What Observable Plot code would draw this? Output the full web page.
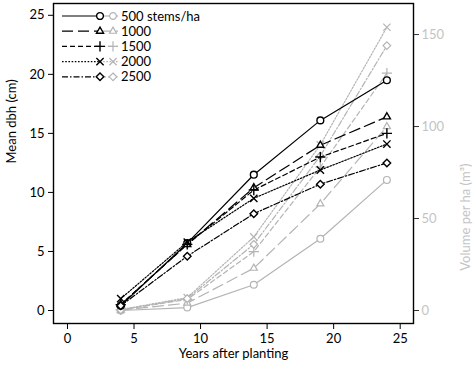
<!DOCTYPE html>
<html>
<head>
<meta charset="utf-8">
<script src="https://cdn.jsdelivr.net/npm/d3@7"></script>
<script src="https://cdn.jsdelivr.net/npm/@observablehq/plot@0.6"></script>
<style>
  body { margin: 0; background: white; }
  #chart { position: relative; width: 474px; height: 369px; }
</style>
</head>
<body>
<div id="chart"></div>
<script>
// ---- data ----
const years = [4, 9, 14, 19, 24];
const densities = ["500 stems/ha", "1000", "1500", "2000", "2500"];
const dbh500  = [0.4, 5.7, 11.5, 16.1, 19.5];
const dbh1000 = [0.5, 5.6, 10.4, 14.0, 16.4];
const dbh1500 = [0.5, 5.6, 10.2, 13.0, 15.0];
const dbh2000 = [1.0, 5.8, 9.5, 11.9, 14.1];
const dbh2500 = [0.4, 4.6, 8.2, 10.7, 12.5];
const vol500  = [0.0, 1.6, 14, 39, 71];
const vol1000 = [0.2, 4, 23, 58, 100];
const vol1500 = [0.3, 6, 32, 78, 129];
const vol2000 = [0.5, 7, 40, 90, 154];
const vol2500 = [0.3, 6.5, 36, 84, 144];
const xTicks = [0, 5, 10, 15, 20, 25];
const dbhTicks = [0, 5, 10, 15, 20, 25];
const volTicks = [0, 50, 100, 150];

// ---- build table ----
const dbhSeries = [dbh500, dbh1000, dbh1500, dbh2000, dbh2500];
const volSeries = [vol500, vol1000, vol1500, vol2000, vol2500];
const k = 0.1558; // cm of left axis per m3 of right axis
const rows = [];
densities.forEach((dens, i) => {
  years.forEach((yr, j) => {
    rows.push({density: dens, year: yr, dbh: dbhSeries[i][j], vol: volSeries[i][j] * k});
  });
});

const dashes = [null, "11,5", "5,3", "1.6,1.6", "6,2,1.5,2"];
const symbols = ["circle", "triangle2", "plus", "times", "diamond2"];
const fills = ["white", "white", "none", "none", "white"];
const gray = "#b4b4b4";
const grayText = "#c4c4c4";

const marks = [Plot.frame({stroke: "black", strokeWidth: 1.4})];
densities.forEach((dens, i) => {
  marks.push(Plot.line(rows.filter(d => d.density === dens), {x: "year", y: "vol", stroke: gray, strokeWidth: 1.2, strokeDasharray: dashes[i]}));
});
densities.forEach((dens, i) => {
  marks.push(Plot.dot(rows.filter(d => d.density === dens), {x: "year", y: "vol", symbol: symbols[i], r: 3.4, stroke: gray, strokeWidth: 1.2, fill: fills[i]}));
});
densities.forEach((dens, i) => {
  marks.push(Plot.line(rows.filter(d => d.density === dens), {x: "year", y: "dbh", stroke: "black", strokeWidth: 1.2, strokeDasharray: dashes[i]}));
});
densities.forEach((dens, i) => {
  marks.push(Plot.dot(rows.filter(d => d.density === dens), {x: "year", y: "dbh", symbol: symbols[i], r: 3.4, stroke: "black", strokeWidth: 1.4, fill: fills[i]}));
});
marks.push(
  Plot.axisX(xTicks, {tickSize: 6, tickPadding: 4, label: null, tickFormat: d => d}),
  Plot.axisY(dbhTicks, {anchor: "left", tickSize: 5, tickPadding: 4, label: null, tickFormat: d => d}),
  Plot.axisY(volTicks.map(v => v * k), {anchor: "right", tickSize: 5, tickPadding: 3, label: null, color: grayText, stroke: "#333", tickFormat: (d, i) => volTicks[i]}),
  Plot.text(["Years after planting"], {frameAnchor: "bottom", dy: 34, fontSize: 13, fill: "black"}),
  Plot.text(["Mean dbh (cm)"], {frameAnchor: "left", dx: -42, rotate: -90, fontSize: 13, fill: "black"}),
  Plot.text(["Volume per ha (m³)"], {frameAnchor: "right", dx: 52, rotate: -90, fontSize: 13, fill: grayText})
);

const chart = Plot.plot({
  width: 474, height: 369,
  marginLeft: 53, marginRight: 61, marginTop: 3, marginBottom: 46,
  style: {fontFamily: "Lato, 'Open Sans', sans-serif", fontSize: "13px", color: "black", background: "white"},
  x: {domain: [-1.05, 26]},
  y: {domain: [-1.1, 26]},
  marks
});
document.getElementById("chart").appendChild(chart);

// ---- legend ----
const svg = d3.select(chart);
const lg = svg.append("g").attr("class", "legend").attr("text-anchor", "start");
const symMap = {circle: d3.symbolCircle, triangle2: d3.symbolTriangle2, plus: d3.symbolPlus, times: d3.symbolTimes, diamond2: d3.symbolDiamond2};
const size = Math.PI * 3.4 * 3.4;
densities.forEach((dens, i) => {
  const yy = 16 + i * 15.2;
  lg.append("line").attr("x1", 100).attr("x2", 118).attr("y1", yy).attr("y2", yy)
    .attr("stroke", gray).attr("stroke-width", 1.2).attr("stroke-dasharray", dashes[i]);
  lg.append("path").attr("d", d3.symbol(symMap[symbols[i]], size)()).attr("transform", `translate(113,${yy})`)
    .attr("stroke", gray).attr("stroke-width", 1.2).attr("fill", fills[i]);
  lg.append("line").attr("x1", 62).attr("x2", 100).attr("y1", yy).attr("y2", yy)
    .attr("stroke", "black").attr("stroke-width", 1.2).attr("stroke-dasharray", dashes[i]);
  lg.append("path").attr("d", d3.symbol(symMap[symbols[i]], size)()).attr("transform", `translate(100,${yy})`)
    .attr("stroke", "black").attr("stroke-width", 1.4).attr("fill", fills[i]);
  lg.append("text").attr("x", 121).attr("y", yy).attr("dy", "0.35em").attr("font-size", 13)
    .attr("text-anchor", "start").attr("fill", "black").text(dens);
});
</script>
</body>
</html>
